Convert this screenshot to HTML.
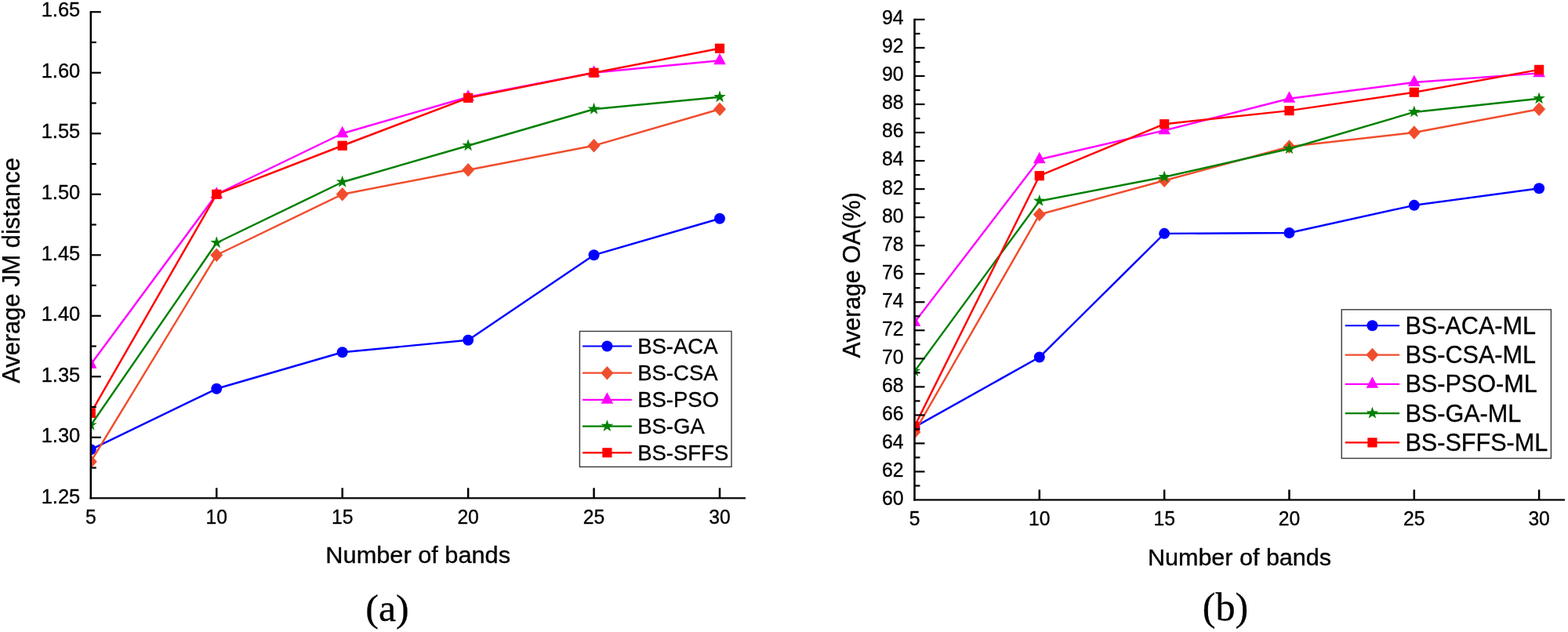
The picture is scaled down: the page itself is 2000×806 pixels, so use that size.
<!DOCTYPE html>
<html lang="en">
<head>
<meta charset="utf-8">
<title>Band selection comparison</title>
<style>
html,body{margin:0;padding:0;background:#fff;}
body{width:2000px;height:806px;overflow:hidden;}
svg{display:block;}
text{fill:#000;}
</style>
</head>
<body>
<svg width="2000" height="806" viewBox="0 0 2000 806">
<rect width="2000" height="806" fill="#fff"/>
<g id="chart-a">
<clipPath id="clipa"><rect x="115.80" y="0" width="875.20" height="635.30"/></clipPath>
<g clip-path="url(#clipa)">
<polyline points="115.80,573.29 276.24,495.79 436.68,449.28 597.12,433.78 757.56,325.27 918.00,278.77" fill="none" stroke="#0000ff" stroke-width="2.45" stroke-linejoin="round"/>
<circle cx="115.80" cy="573.29" r="7.00" fill="#0000ff"/>
<circle cx="276.24" cy="495.79" r="7.00" fill="#0000ff"/>
<circle cx="436.68" cy="449.28" r="7.00" fill="#0000ff"/>
<circle cx="597.12" cy="433.78" r="7.00" fill="#0000ff"/>
<circle cx="757.56" cy="325.27" r="7.00" fill="#0000ff"/>
<circle cx="918.00" cy="278.77" r="7.00" fill="#0000ff"/>
<polyline points="115.80,588.80 276.24,325.27 436.68,247.77 597.12,216.77 757.56,185.76 918.00,139.26" fill="none" stroke="#f04d2d" stroke-width="2.45" stroke-linejoin="round"/>
<polygon points="115.80,580.00 123.80,588.80 115.80,597.60 107.80,588.80" fill="#f04d2d"/>
<polygon points="276.24,316.47 284.24,325.27 276.24,334.07 268.24,325.27" fill="#f04d2d"/>
<polygon points="436.68,238.97 444.68,247.77 436.68,256.57 428.68,247.77" fill="#f04d2d"/>
<polygon points="597.12,207.97 605.12,216.77 597.12,225.57 589.12,216.77" fill="#f04d2d"/>
<polygon points="757.56,176.96 765.56,185.76 757.56,194.56 749.56,185.76" fill="#f04d2d"/>
<polygon points="918.00,130.46 926.00,139.26 918.00,148.06 910.00,139.26" fill="#f04d2d"/>
<polyline points="115.80,464.79 276.24,247.77 436.68,170.26 597.12,123.76 757.56,92.76 918.00,77.25" fill="none" stroke="#ff00ff" stroke-width="2.45" stroke-linejoin="round"/>
<polygon points="115.80,455.19 123.60,469.79 108.00,469.79" fill="#ff00ff"/>
<polygon points="276.24,238.17 284.04,252.77 268.44,252.77" fill="#ff00ff"/>
<polygon points="436.68,160.66 444.48,175.26 428.88,175.26" fill="#ff00ff"/>
<polygon points="597.12,114.16 604.92,128.76 589.32,128.76" fill="#ff00ff"/>
<polygon points="757.56,83.16 765.36,97.76 749.76,97.76" fill="#ff00ff"/>
<polygon points="918.00,67.65 925.80,82.25 910.20,82.25" fill="#ff00ff"/>
<polyline points="115.80,542.29 276.24,309.77 436.68,232.27 597.12,185.76 757.56,139.26 918.00,123.76" fill="none" stroke="#008000" stroke-width="2.45" stroke-linejoin="round"/>
<polygon points="115.80,533.89 117.73,539.44 123.60,539.56 118.92,543.11 120.62,548.73 115.80,545.37 110.98,548.73 112.68,543.11 108.00,539.56 113.87,539.44" fill="#008000"/>
<polygon points="276.24,301.37 278.17,306.92 284.04,307.04 279.36,310.59 281.06,316.21 276.24,312.85 271.42,316.21 273.12,310.59 268.44,307.04 274.31,306.92" fill="#008000"/>
<polygon points="436.68,223.87 438.61,229.41 444.48,229.53 439.80,233.08 441.50,238.70 436.68,235.35 431.86,238.70 433.56,233.08 428.88,229.53 434.75,229.41" fill="#008000"/>
<polygon points="597.12,177.36 599.05,182.91 604.92,183.03 600.24,186.58 601.94,192.20 597.12,188.84 592.30,192.20 594.00,186.58 589.32,183.03 595.19,182.91" fill="#008000"/>
<polygon points="757.56,130.86 759.49,136.41 765.36,136.53 760.68,140.07 762.38,145.69 757.56,142.34 752.74,145.69 754.44,140.07 749.76,136.53 755.63,136.41" fill="#008000"/>
<polygon points="918.00,115.36 919.93,120.91 925.80,121.02 921.12,124.57 922.82,130.19 918.00,126.84 913.18,130.19 914.88,124.57 910.20,121.02 916.07,120.91" fill="#008000"/>
<polyline points="115.80,526.79 276.24,247.77 436.68,185.76 597.12,124.84 757.56,92.76 918.00,61.75" fill="none" stroke="#ff0000" stroke-width="2.45" stroke-linejoin="round"/>
<rect x="109.70" y="520.69" width="12.20" height="12.20" fill="#ff0000"/>
<rect x="270.14" y="241.67" width="12.20" height="12.20" fill="#ff0000"/>
<rect x="430.58" y="179.66" width="12.20" height="12.20" fill="#ff0000"/>
<rect x="591.02" y="118.74" width="12.20" height="12.20" fill="#ff0000"/>
<rect x="751.46" y="86.66" width="12.20" height="12.20" fill="#ff0000"/>
<rect x="911.90" y="55.65" width="12.20" height="12.20" fill="#ff0000"/>
</g>
<g fill="#000">
<rect x="114.55" y="14.15" width="2.50" height="622.25"/>
<rect x="114.55" y="634.20" width="836.45" height="2.20"/>
<rect x="115.80" y="595.45" width="7.00" height="2.20"/>
<rect x="115.80" y="556.69" width="13.00" height="2.20"/>
<rect x="115.80" y="517.94" width="7.00" height="2.20"/>
<rect x="115.80" y="479.19" width="13.00" height="2.20"/>
<rect x="115.80" y="440.43" width="7.00" height="2.20"/>
<rect x="115.80" y="401.68" width="13.00" height="2.20"/>
<rect x="115.80" y="362.93" width="7.00" height="2.20"/>
<rect x="115.80" y="324.17" width="13.00" height="2.20"/>
<rect x="115.80" y="285.42" width="7.00" height="2.20"/>
<rect x="115.80" y="246.67" width="13.00" height="2.20"/>
<rect x="115.80" y="207.92" width="7.00" height="2.20"/>
<rect x="115.80" y="169.16" width="13.00" height="2.20"/>
<rect x="115.80" y="130.41" width="7.00" height="2.20"/>
<rect x="115.80" y="91.66" width="13.00" height="2.20"/>
<rect x="115.80" y="52.90" width="7.00" height="2.20"/>
<rect x="115.80" y="14.15" width="13.00" height="2.20"/>
<rect x="274.99" y="622.30" width="2.50" height="13.00"/>
<rect x="435.43" y="622.30" width="2.50" height="13.00"/>
<rect x="595.87" y="622.30" width="2.50" height="13.00"/>
<rect x="756.31" y="622.30" width="2.50" height="13.00"/>
<rect x="916.75" y="622.30" width="2.50" height="13.00"/>
</g>
<text font-family='"Liberation Sans", sans-serif' font-size="25.5" text-anchor="end" transform="translate(102.30,642.00)" stroke="#000" stroke-width="0.35" stroke-linejoin="round">1.25</text>
<text font-family='"Liberation Sans", sans-serif' font-size="25.5" text-anchor="end" transform="translate(102.30,564.38)" stroke="#000" stroke-width="0.35" stroke-linejoin="round">1.30</text>
<text font-family='"Liberation Sans", sans-serif' font-size="25.5" text-anchor="end" transform="translate(102.30,486.77)" stroke="#000" stroke-width="0.35" stroke-linejoin="round">1.35</text>
<text font-family='"Liberation Sans", sans-serif' font-size="25.5" text-anchor="end" transform="translate(102.30,409.15)" stroke="#000" stroke-width="0.35" stroke-linejoin="round">1.40</text>
<text font-family='"Liberation Sans", sans-serif' font-size="25.5" text-anchor="end" transform="translate(102.30,331.53)" stroke="#000" stroke-width="0.35" stroke-linejoin="round">1.45</text>
<text font-family='"Liberation Sans", sans-serif' font-size="25.5" text-anchor="end" transform="translate(102.30,253.92)" stroke="#000" stroke-width="0.35" stroke-linejoin="round">1.50</text>
<text font-family='"Liberation Sans", sans-serif' font-size="25.5" text-anchor="end" transform="translate(102.30,176.30)" stroke="#000" stroke-width="0.35" stroke-linejoin="round">1.55</text>
<text font-family='"Liberation Sans", sans-serif' font-size="25.5" text-anchor="end" transform="translate(102.30,98.69)" stroke="#000" stroke-width="0.35" stroke-linejoin="round">1.60</text>
<text font-family='"Liberation Sans", sans-serif' font-size="25.5" text-anchor="end" transform="translate(102.30,21.07)" stroke="#000" stroke-width="0.35" stroke-linejoin="round">1.65</text>
<text font-family='"Liberation Sans", sans-serif' font-size="25.5" text-anchor="middle" transform="translate(115.80,668.30) scale(0.968,1)" stroke="#000" stroke-width="0.35" stroke-linejoin="round">5</text>
<text font-family='"Liberation Sans", sans-serif' font-size="25.5" text-anchor="middle" transform="translate(276.24,668.30) scale(0.968,1)" stroke="#000" stroke-width="0.35" stroke-linejoin="round">10</text>
<text font-family='"Liberation Sans", sans-serif' font-size="25.5" text-anchor="middle" transform="translate(436.68,668.30) scale(0.968,1)" stroke="#000" stroke-width="0.35" stroke-linejoin="round">15</text>
<text font-family='"Liberation Sans", sans-serif' font-size="25.5" text-anchor="middle" transform="translate(597.12,668.30) scale(0.968,1)" stroke="#000" stroke-width="0.35" stroke-linejoin="round">20</text>
<text font-family='"Liberation Sans", sans-serif' font-size="25.5" text-anchor="middle" transform="translate(757.56,668.30) scale(0.968,1)" stroke="#000" stroke-width="0.35" stroke-linejoin="round">25</text>
<text font-family='"Liberation Sans", sans-serif' font-size="25.5" text-anchor="middle" transform="translate(918.00,668.30) scale(0.968,1)" stroke="#000" stroke-width="0.35" stroke-linejoin="round">30</text>
<text font-family='"Liberation Sans", sans-serif' font-size="29.3" text-anchor="middle" transform="translate(533.20,718.00) scale(1.049,1)" stroke="#000" stroke-width="0.35" stroke-linejoin="round">Number of bands</text>
<text font-family='"Liberation Sans", sans-serif' font-size="31.3" text-anchor="middle" transform="translate(24.60,345.00) rotate(-90) scale(0.986,1)" stroke="#000" stroke-width="0.35" stroke-linejoin="round">Average JM distance</text>
<text font-family='"Liberation Serif", serif' font-size="49.2" text-anchor="middle" transform="translate(494.00,791.70) scale(1.016,1)" stroke="#000" stroke-width="0.3" stroke-linejoin="round">(a)</text>
<rect x="739.4" y="422.5" width="193.60" height="172.90" fill="#fff" stroke="#3a3a3a" stroke-width="1.4"/>
<path d="M743,441.5 H805.8" stroke="#0000ff" stroke-width="2.2"/>
<circle cx="774.40" cy="441.50" r="7.00" fill="#0000ff"/>
<text font-family='"Liberation Sans", sans-serif' font-size="28.3" text-anchor="start" transform="translate(813.20,450.90) scale(0.972,1)" stroke="#000" stroke-width="0.35" stroke-linejoin="round">BS-ACA</text>
<path d="M743,475.7 H805.8" stroke="#f04d2d" stroke-width="2.2"/>
<polygon points="774.40,466.90 782.40,475.70 774.40,484.50 766.40,475.70" fill="#f04d2d"/>
<text font-family='"Liberation Sans", sans-serif' font-size="28.3" text-anchor="start" transform="translate(813.20,485.10) scale(0.972,1)" stroke="#000" stroke-width="0.35" stroke-linejoin="round">BS-CSA</text>
<path d="M743,509.8 H805.8" stroke="#ff00ff" stroke-width="2.2"/>
<polygon points="774.40,500.20 782.20,514.80 766.60,514.80" fill="#ff00ff"/>
<text font-family='"Liberation Sans", sans-serif' font-size="28.3" text-anchor="start" transform="translate(813.20,519.20) scale(0.972,1)" stroke="#000" stroke-width="0.35" stroke-linejoin="round">BS-PSO</text>
<path d="M743,543.6 H805.8" stroke="#008000" stroke-width="2.2"/>
<polygon points="774.40,535.20 776.33,540.75 782.20,540.87 777.52,544.41 779.22,550.03 774.40,546.68 769.58,550.03 771.28,544.41 766.60,540.87 772.47,540.75" fill="#008000"/>
<text font-family='"Liberation Sans", sans-serif' font-size="28.3" text-anchor="start" transform="translate(813.20,553.00) scale(0.972,1)" stroke="#000" stroke-width="0.35" stroke-linejoin="round">BS-GA</text>
<path d="M743,577.3 H805.8" stroke="#ff0000" stroke-width="2.2"/>
<rect x="768.30" y="571.20" width="12.20" height="12.20" fill="#ff0000"/>
<text font-family='"Liberation Sans", sans-serif' font-size="28.3" text-anchor="start" transform="translate(813.20,586.70) scale(0.972,1)" stroke="#000" stroke-width="0.35" stroke-linejoin="round">BS-SFFS</text>
</g>
<g id="chart-b">
<clipPath id="clipb"><rect x="1166.50" y="0" width="869.50" height="637.50"/></clipPath>
<g clip-path="url(#clipb)">
<polyline points="1166.50,544.71 1325.82,455.52 1485.14,297.87 1644.46,296.97 1803.78,261.83 1963.10,240.21" fill="none" stroke="#0000ff" stroke-width="2.45" stroke-linejoin="round"/>
<circle cx="1166.50" cy="544.71" r="7.00" fill="#0000ff"/>
<circle cx="1325.82" cy="455.52" r="7.00" fill="#0000ff"/>
<circle cx="1485.14" cy="297.87" r="7.00" fill="#0000ff"/>
<circle cx="1644.46" cy="296.97" r="7.00" fill="#0000ff"/>
<circle cx="1803.78" cy="261.83" r="7.00" fill="#0000ff"/>
<circle cx="1963.10" cy="240.21" r="7.00" fill="#0000ff"/>
<polyline points="1166.50,551.02 1325.82,273.54 1485.14,230.30 1644.46,187.06 1803.78,169.04 1963.10,139.31" fill="none" stroke="#f04d2d" stroke-width="2.45" stroke-linejoin="round"/>
<polygon points="1166.50,542.22 1174.50,551.02 1166.50,559.82 1158.50,551.02" fill="#f04d2d"/>
<polygon points="1325.82,264.74 1333.82,273.54 1325.82,282.34 1317.82,273.54" fill="#f04d2d"/>
<polygon points="1485.14,221.50 1493.14,230.30 1485.14,239.10 1477.14,230.30" fill="#f04d2d"/>
<polygon points="1644.46,178.26 1652.46,187.06 1644.46,195.86 1636.46,187.06" fill="#f04d2d"/>
<polygon points="1803.78,160.24 1811.78,169.04 1803.78,177.84 1795.78,169.04" fill="#f04d2d"/>
<polygon points="1963.10,130.51 1971.10,139.31 1963.10,148.11 1955.10,139.31" fill="#f04d2d"/>
<polyline points="1166.50,411.02 1325.82,203.27 1485.14,166.34 1644.46,125.80 1803.78,105.08 1963.10,93.37" fill="none" stroke="#ff00ff" stroke-width="2.45" stroke-linejoin="round"/>
<polygon points="1166.50,401.42 1174.30,416.02 1158.70,416.02" fill="#ff00ff"/>
<polygon points="1325.82,193.67 1333.62,208.27 1318.02,208.27" fill="#ff00ff"/>
<polygon points="1485.14,156.74 1492.94,171.34 1477.34,171.34" fill="#ff00ff"/>
<polygon points="1644.46,116.20 1652.26,130.80 1636.66,130.80" fill="#ff00ff"/>
<polygon points="1803.78,95.48 1811.58,110.08 1795.98,110.08" fill="#ff00ff"/>
<polygon points="1963.10,83.77 1970.90,98.37 1955.30,98.37" fill="#ff00ff"/>
<polyline points="1166.50,473.54 1325.82,256.43 1485.14,225.80 1644.46,189.76 1803.78,142.92 1963.10,125.80" fill="none" stroke="#008000" stroke-width="2.45" stroke-linejoin="round"/>
<polygon points="1166.50,465.14 1168.43,470.69 1174.30,470.81 1169.62,474.35 1171.32,479.97 1166.50,476.62 1161.68,479.97 1163.38,474.35 1158.70,470.81 1164.57,470.69" fill="#008000"/>
<polygon points="1325.82,248.03 1327.75,253.57 1333.62,253.69 1328.94,257.24 1330.64,262.86 1325.82,259.51 1321.00,262.86 1322.70,257.24 1318.02,253.69 1323.89,253.57" fill="#008000"/>
<polygon points="1485.14,217.40 1487.07,222.94 1492.94,223.06 1488.26,226.61 1489.96,232.23 1485.14,228.88 1480.32,232.23 1482.02,226.61 1477.34,223.06 1483.21,222.94" fill="#008000"/>
<polygon points="1644.46,181.36 1646.39,186.91 1652.26,187.03 1647.58,190.58 1649.28,196.20 1644.46,192.84 1639.64,196.20 1641.34,190.58 1636.66,187.03 1642.53,186.91" fill="#008000"/>
<polygon points="1803.78,134.52 1805.71,140.06 1811.58,140.18 1806.90,143.73 1808.60,149.35 1803.78,146.00 1798.96,149.35 1800.66,143.73 1795.98,140.18 1801.85,140.06" fill="#008000"/>
<polygon points="1963.10,117.40 1965.03,122.95 1970.90,123.06 1966.22,126.61 1967.92,132.23 1963.10,128.88 1958.28,132.23 1959.98,126.61 1955.30,123.06 1961.17,122.95" fill="#008000"/>
<polyline points="1166.50,543.81 1325.82,224.18 1485.14,158.23 1644.46,141.11 1803.78,117.69 1963.10,88.86" fill="none" stroke="#ff0000" stroke-width="2.45" stroke-linejoin="round"/>
<rect x="1160.40" y="537.71" width="12.20" height="12.20" fill="#ff0000"/>
<rect x="1319.72" y="218.08" width="12.20" height="12.20" fill="#ff0000"/>
<rect x="1479.04" y="152.13" width="12.20" height="12.20" fill="#ff0000"/>
<rect x="1638.36" y="135.01" width="12.20" height="12.20" fill="#ff0000"/>
<rect x="1797.68" y="111.59" width="12.20" height="12.20" fill="#ff0000"/>
<rect x="1957.00" y="82.76" width="12.20" height="12.20" fill="#ff0000"/>
</g>
<g fill="#000">
<rect x="1165.25" y="23.80" width="2.50" height="614.80"/>
<rect x="1165.25" y="636.40" width="830.75" height="2.20"/>
<rect x="1166.50" y="618.38" width="7.00" height="2.20"/>
<rect x="1166.50" y="600.36" width="13.00" height="2.20"/>
<rect x="1166.50" y="582.35" width="7.00" height="2.20"/>
<rect x="1166.50" y="564.33" width="13.00" height="2.20"/>
<rect x="1166.50" y="546.31" width="7.00" height="2.20"/>
<rect x="1166.50" y="528.29" width="13.00" height="2.20"/>
<rect x="1166.50" y="510.28" width="7.00" height="2.20"/>
<rect x="1166.50" y="492.26" width="13.00" height="2.20"/>
<rect x="1166.50" y="474.24" width="7.00" height="2.20"/>
<rect x="1166.50" y="456.22" width="13.00" height="2.20"/>
<rect x="1166.50" y="438.21" width="7.00" height="2.20"/>
<rect x="1166.50" y="420.19" width="13.00" height="2.20"/>
<rect x="1166.50" y="402.17" width="7.00" height="2.20"/>
<rect x="1166.50" y="384.15" width="13.00" height="2.20"/>
<rect x="1166.50" y="366.14" width="7.00" height="2.20"/>
<rect x="1166.50" y="348.12" width="13.00" height="2.20"/>
<rect x="1166.50" y="330.10" width="7.00" height="2.20"/>
<rect x="1166.50" y="312.08" width="13.00" height="2.20"/>
<rect x="1166.50" y="294.06" width="7.00" height="2.20"/>
<rect x="1166.50" y="276.05" width="13.00" height="2.20"/>
<rect x="1166.50" y="258.03" width="7.00" height="2.20"/>
<rect x="1166.50" y="240.01" width="13.00" height="2.20"/>
<rect x="1166.50" y="221.99" width="7.00" height="2.20"/>
<rect x="1166.50" y="203.98" width="13.00" height="2.20"/>
<rect x="1166.50" y="185.96" width="7.00" height="2.20"/>
<rect x="1166.50" y="167.94" width="13.00" height="2.20"/>
<rect x="1166.50" y="149.92" width="7.00" height="2.20"/>
<rect x="1166.50" y="131.91" width="13.00" height="2.20"/>
<rect x="1166.50" y="113.89" width="7.00" height="2.20"/>
<rect x="1166.50" y="95.87" width="13.00" height="2.20"/>
<rect x="1166.50" y="77.85" width="7.00" height="2.20"/>
<rect x="1166.50" y="59.84" width="13.00" height="2.20"/>
<rect x="1166.50" y="41.82" width="7.00" height="2.20"/>
<rect x="1166.50" y="23.80" width="13.00" height="2.20"/>
<rect x="1324.57" y="624.50" width="2.50" height="13.00"/>
<rect x="1483.89" y="624.50" width="2.50" height="13.00"/>
<rect x="1643.21" y="624.50" width="2.50" height="13.00"/>
<rect x="1802.53" y="624.50" width="2.50" height="13.00"/>
<rect x="1961.85" y="624.50" width="2.50" height="13.00"/>
</g>
<text font-family='"Liberation Sans", sans-serif' font-size="25.5" text-anchor="end" transform="translate(1152.60,643.90) scale(0.975,1)" stroke="#000" stroke-width="0.35" stroke-linejoin="round">60</text>
<text font-family='"Liberation Sans", sans-serif' font-size="25.5" text-anchor="end" transform="translate(1152.60,607.86) scale(0.975,1)" stroke="#000" stroke-width="0.35" stroke-linejoin="round">62</text>
<text font-family='"Liberation Sans", sans-serif' font-size="25.5" text-anchor="end" transform="translate(1152.60,571.83) scale(0.975,1)" stroke="#000" stroke-width="0.35" stroke-linejoin="round">64</text>
<text font-family='"Liberation Sans", sans-serif' font-size="25.5" text-anchor="end" transform="translate(1152.60,535.79) scale(0.975,1)" stroke="#000" stroke-width="0.35" stroke-linejoin="round">66</text>
<text font-family='"Liberation Sans", sans-serif' font-size="25.5" text-anchor="end" transform="translate(1152.60,499.76) scale(0.975,1)" stroke="#000" stroke-width="0.35" stroke-linejoin="round">68</text>
<text font-family='"Liberation Sans", sans-serif' font-size="25.5" text-anchor="end" transform="translate(1152.60,463.72) scale(0.975,1)" stroke="#000" stroke-width="0.35" stroke-linejoin="round">70</text>
<text font-family='"Liberation Sans", sans-serif' font-size="25.5" text-anchor="end" transform="translate(1152.60,427.69) scale(0.975,1)" stroke="#000" stroke-width="0.35" stroke-linejoin="round">72</text>
<text font-family='"Liberation Sans", sans-serif' font-size="25.5" text-anchor="end" transform="translate(1152.60,391.65) scale(0.975,1)" stroke="#000" stroke-width="0.35" stroke-linejoin="round">74</text>
<text font-family='"Liberation Sans", sans-serif' font-size="25.5" text-anchor="end" transform="translate(1152.60,355.62) scale(0.975,1)" stroke="#000" stroke-width="0.35" stroke-linejoin="round">76</text>
<text font-family='"Liberation Sans", sans-serif' font-size="25.5" text-anchor="end" transform="translate(1152.60,319.58) scale(0.975,1)" stroke="#000" stroke-width="0.35" stroke-linejoin="round">78</text>
<text font-family='"Liberation Sans", sans-serif' font-size="25.5" text-anchor="end" transform="translate(1152.60,283.55) scale(0.975,1)" stroke="#000" stroke-width="0.35" stroke-linejoin="round">80</text>
<text font-family='"Liberation Sans", sans-serif' font-size="25.5" text-anchor="end" transform="translate(1152.60,247.51) scale(0.975,1)" stroke="#000" stroke-width="0.35" stroke-linejoin="round">82</text>
<text font-family='"Liberation Sans", sans-serif' font-size="25.5" text-anchor="end" transform="translate(1152.60,211.48) scale(0.975,1)" stroke="#000" stroke-width="0.35" stroke-linejoin="round">84</text>
<text font-family='"Liberation Sans", sans-serif' font-size="25.5" text-anchor="end" transform="translate(1152.60,175.44) scale(0.975,1)" stroke="#000" stroke-width="0.35" stroke-linejoin="round">86</text>
<text font-family='"Liberation Sans", sans-serif' font-size="25.5" text-anchor="end" transform="translate(1152.60,139.41) scale(0.975,1)" stroke="#000" stroke-width="0.35" stroke-linejoin="round">88</text>
<text font-family='"Liberation Sans", sans-serif' font-size="25.5" text-anchor="end" transform="translate(1152.60,103.37) scale(0.975,1)" stroke="#000" stroke-width="0.35" stroke-linejoin="round">90</text>
<text font-family='"Liberation Sans", sans-serif' font-size="25.5" text-anchor="end" transform="translate(1152.60,67.34) scale(0.975,1)" stroke="#000" stroke-width="0.35" stroke-linejoin="round">92</text>
<text font-family='"Liberation Sans", sans-serif' font-size="25.5" text-anchor="end" transform="translate(1152.60,31.30) scale(0.975,1)" stroke="#000" stroke-width="0.35" stroke-linejoin="round">94</text>
<text font-family='"Liberation Sans", sans-serif' font-size="25.5" text-anchor="middle" transform="translate(1166.50,670.10) scale(0.968,1)" stroke="#000" stroke-width="0.35" stroke-linejoin="round">5</text>
<text font-family='"Liberation Sans", sans-serif' font-size="25.5" text-anchor="middle" transform="translate(1325.82,670.10) scale(0.968,1)" stroke="#000" stroke-width="0.35" stroke-linejoin="round">10</text>
<text font-family='"Liberation Sans", sans-serif' font-size="25.5" text-anchor="middle" transform="translate(1485.14,670.10) scale(0.968,1)" stroke="#000" stroke-width="0.35" stroke-linejoin="round">15</text>
<text font-family='"Liberation Sans", sans-serif' font-size="25.5" text-anchor="middle" transform="translate(1644.46,670.10) scale(0.968,1)" stroke="#000" stroke-width="0.35" stroke-linejoin="round">20</text>
<text font-family='"Liberation Sans", sans-serif' font-size="25.5" text-anchor="middle" transform="translate(1803.78,670.10) scale(0.968,1)" stroke="#000" stroke-width="0.35" stroke-linejoin="round">25</text>
<text font-family='"Liberation Sans", sans-serif' font-size="25.5" text-anchor="middle" transform="translate(1963.10,670.10) scale(0.968,1)" stroke="#000" stroke-width="0.35" stroke-linejoin="round">30</text>
<text font-family='"Liberation Sans", sans-serif' font-size="29.3" text-anchor="middle" transform="translate(1581.00,720.50) scale(1.042,1)" stroke="#000" stroke-width="0.35" stroke-linejoin="round">Number of bands</text>
<text font-family='"Liberation Sans", sans-serif' font-size="31.3" text-anchor="middle" transform="translate(1096.70,350.80) rotate(-90) scale(0.9665,1)" stroke="#000" stroke-width="0.35" stroke-linejoin="round">Average OA(%)</text>
<text font-family='"Liberation Serif", serif' font-size="49.7" text-anchor="middle" transform="translate(1563.00,791.10) scale(1.01,1)" stroke="#000" stroke-width="0.3" stroke-linejoin="round">(b)</text>
<rect x="1711.25" y="394.85" width="267.15" height="189.65" fill="#fff" stroke="#3a3a3a" stroke-width="1.4"/>
<path d="M1715.75,415.25 H1785.1" stroke="#0000ff" stroke-width="2.2"/>
<circle cx="1750.42" cy="415.25" r="7.00" fill="#0000ff"/>
<text font-family='"Liberation Sans", sans-serif' font-size="31.3" text-anchor="start" transform="translate(1792.40,425.75) scale(0.978,1)" stroke="#000" stroke-width="0.35" stroke-linejoin="round">BS-ACA-ML</text>
<path d="M1715.75,452.54 H1785.1" stroke="#f04d2d" stroke-width="2.2"/>
<polygon points="1750.42,443.74 1758.42,452.54 1750.42,461.34 1742.42,452.54" fill="#f04d2d"/>
<text font-family='"Liberation Sans", sans-serif' font-size="31.3" text-anchor="start" transform="translate(1792.40,463.04) scale(0.978,1)" stroke="#000" stroke-width="0.35" stroke-linejoin="round">BS-CSA-ML</text>
<path d="M1715.75,489.83 H1785.1" stroke="#ff00ff" stroke-width="2.2"/>
<polygon points="1750.42,480.23 1758.22,494.83 1742.62,494.83" fill="#ff00ff"/>
<text font-family='"Liberation Sans", sans-serif' font-size="31.3" text-anchor="start" transform="translate(1792.40,500.33) scale(0.978,1)" stroke="#000" stroke-width="0.35" stroke-linejoin="round">BS-PSO-ML</text>
<path d="M1715.75,527.12 H1785.1" stroke="#008000" stroke-width="2.2"/>
<polygon points="1750.42,518.72 1752.35,524.27 1758.22,524.39 1753.54,527.93 1755.24,533.55 1750.42,530.20 1745.61,533.55 1747.31,527.93 1742.63,524.39 1748.50,524.27" fill="#008000"/>
<text font-family='"Liberation Sans", sans-serif' font-size="31.3" text-anchor="start" transform="translate(1792.40,537.62) scale(0.978,1)" stroke="#000" stroke-width="0.35" stroke-linejoin="round">BS-GA-ML</text>
<path d="M1715.75,564.41 H1785.1" stroke="#ff0000" stroke-width="2.2"/>
<rect x="1744.33" y="558.31" width="12.20" height="12.20" fill="#ff0000"/>
<text font-family='"Liberation Sans", sans-serif' font-size="31.3" text-anchor="start" transform="translate(1792.40,574.91) scale(0.978,1)" stroke="#000" stroke-width="0.35" stroke-linejoin="round">BS-SFFS-ML</text>
</g>
</svg>
</body>
</html>
